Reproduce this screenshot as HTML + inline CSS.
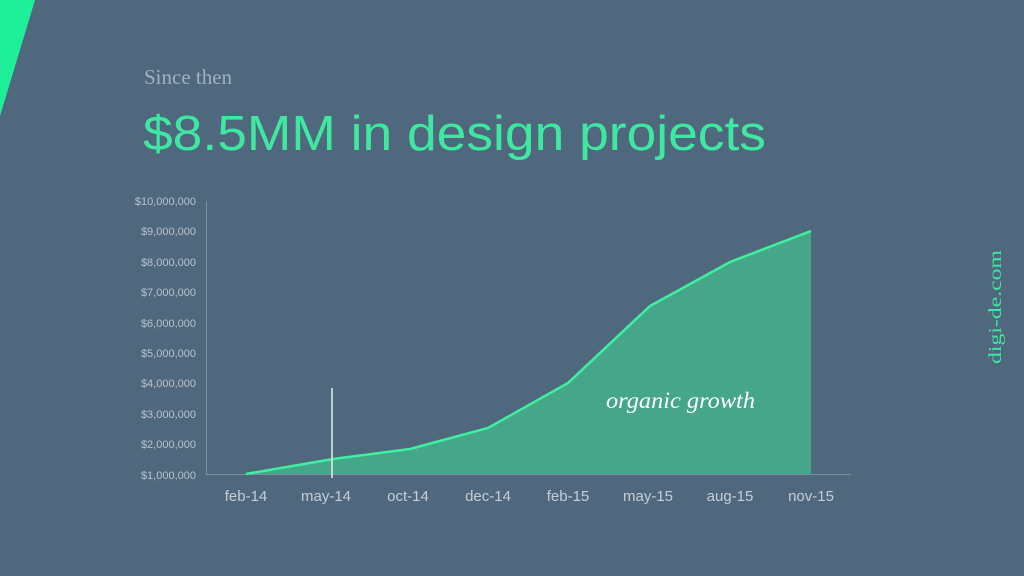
<!DOCTYPE html>
<html><head><meta charset="utf-8"><style>
html,body{margin:0;padding:0;}
body{width:1024px;height:576px;background:#50687e;overflow:hidden;position:relative;font-family:"Liberation Sans",sans-serif;}
</style></head><body>
<svg width="1024" height="576" viewBox="0 0 1024 576" style="position:absolute;left:0;top:0">
<polygon points="0,0 35,0 0,116" fill="#1ef09a"/>
<text x="144" y="84" font-family="Liberation Serif, serif" font-size="21" fill="#a3b0bd">Since then</text>
<text x="143" y="150" font-family="Liberation Sans, sans-serif" font-size="49" fill="#3ee8a0" textLength="623" lengthAdjust="spacingAndGlyphs">$8.5MM in design projects</text>
<line x1="206.5" y1="201" x2="206.5" y2="475" stroke="#7d8fa0" stroke-width="1"/>
<line x1="206" y1="474.5" x2="851" y2="474.5" stroke="#7d8fa0" stroke-width="1"/>
<g font-family="Liberation Sans, sans-serif" font-size="11" fill="#b8c3cd" text-anchor="end">
<text x="196" y="205">$10,000,000</text>
<text x="196" y="235">$9,000,000</text>
<text x="196" y="266">$8,000,000</text>
<text x="196" y="296">$7,000,000</text>
<text x="196" y="327">$6,000,000</text>
<text x="196" y="357">$5,000,000</text>
<text x="196" y="387">$4,000,000</text>
<text x="196" y="418">$3,000,000</text>
<text x="196" y="448">$2,000,000</text>
<text x="196" y="479">$1,000,000</text>
</g>
<polygon points="246,474 333,459 410,449 488,428 568,383 650,306 730,262 811,231 811,474" fill="#45a68a"/>
<polyline points="246,474 333,459 410,449 488,428 568,383 650,306 730,262 811,231" fill="none" stroke="#3ef0a0" stroke-width="2.5"/>
<line x1="332" y1="388" x2="332" y2="478" stroke="#e8eef2" stroke-width="1.5"/>
<g font-family="Liberation Sans, sans-serif" font-size="15" fill="#c4ced7" text-anchor="middle">
<text x="246" y="501">feb-14</text>
<text x="326" y="501">may-14</text>
<text x="408" y="501">oct-14</text>
<text x="488" y="501">dec-14</text>
<text x="568" y="501">feb-15</text>
<text x="648" y="501">may-15</text>
<text x="730" y="501">aug-15</text>
<text x="811" y="501">nov-15</text>
</g>
<text x="606" y="408" font-family="Liberation Serif, serif" font-style="italic" font-size="23" fill="#ffffff" textLength="149" lengthAdjust="spacingAndGlyphs">organic growth</text>
<text transform="translate(1001,364) rotate(-90)" font-family="Liberation Serif, serif" font-size="18" fill="#3ee8a0" textLength="114" lengthAdjust="spacingAndGlyphs">digi-de.com</text>
</svg>
</body></html>
